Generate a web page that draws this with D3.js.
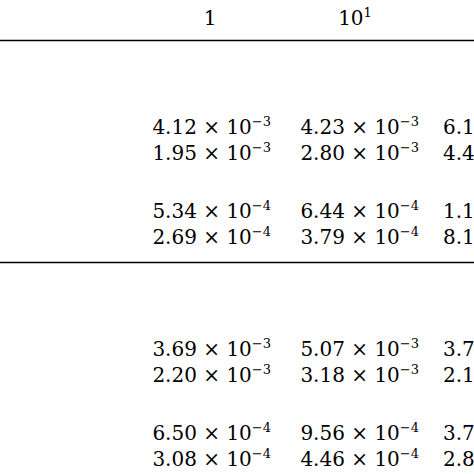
<!DOCTYPE html>
<html><head><meta charset="utf-8">
<script src="https://cdn.jsdelivr.net/npm/d3@7"></script>
<style>body{margin:0;background:#fff}svg{display:block}</style>
</head><body>
<script>
const headers = [{b:"1",e:null},{b:"10",e:"1"}];
// mantissa, exponent per column; rows in order
const col1 = [[4.12,-3],[1.95,-3],[5.34,-4],[2.69,-4],[3.69,-3],[2.20,-3],[6.50,-4],[3.08,-4]];
const col2 = [[4.23,-3],[2.80,-3],[6.44,-4],[3.79,-4],[5.07,-3],[3.18,-3],[9.56,-4],[4.46,-4]];
const col3 = [[6.15,-3],[4.42,-3],[1.13,-3],[8.12,-4],[3.75,-3],[2.14,-3],[3.72,-3],[2.84,-3]];
const cols=[col1,col2,col3];
const W=474,H=474;
const svg=d3.select("body").append("svg").attr("width",W).attr("height",H);
const font="'DejaVu Serif','Liberation Serif',serif";
const colRight=d3.scaleLinear().domain([0,1]).range([271,419]);
const colCenter=d3.scaleLinear().domain([0,1]).range([210,355]);
const rowY=i=>{const g=Math.floor(i/4),p=Math.floor((i%4)/2),r=i%2;return 128+g*222+p*84+r*25.5;};
[40.5,262.5].forEach(y=>svg.append("line").attr("x1",0).attr("x2",W).attr("y1",y).attr("y2",y).attr("stroke","#000").attr("stroke-width",1.3));
headers.forEach((h,j)=>{
  const t=svg.append("text").attr("x",colCenter(j)).attr("y",25).attr("text-anchor","middle")
    .attr("font-family",font).attr("font-size",20);
  t.append("tspan").text(h.b);
  if(h.e) t.append("tspan").attr("dy",-8).attr("font-size",13).text(h.e);
});
const fmt=d3.format(".2f");
cols.forEach((c,j)=>{
  c.forEach((v,i)=>{
    const t=svg.append("text").attr("x",j<2?colRight(j):443).attr("y",rowY(i)+6)
      .attr("text-anchor",j<2?"end":"start").attr("font-family",font).attr("font-size",20);
    t.append("tspan").text(fmt(v[0])+" × 10");
    t.append("tspan").attr("dy",-8).attr("font-size",13).text("−"+(-v[1]));
  });
});
</script>
</body></html>
